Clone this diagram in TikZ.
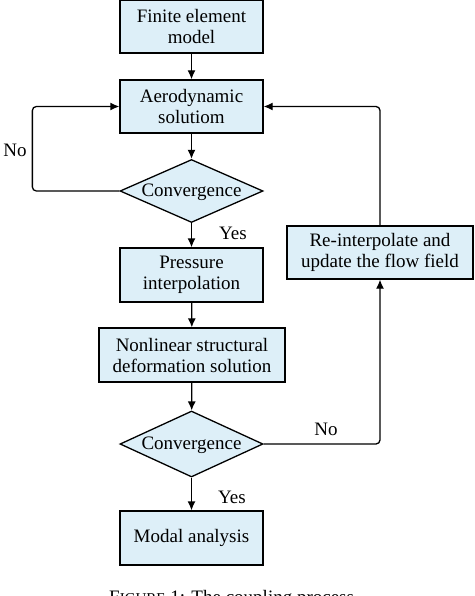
\documentclass[tikz,border=0pt]{standalone}
\usepackage{fontspec}
\setmainfont{Liberation Serif}
\usetikzlibrary{shapes.geometric,arrows.meta}
\definecolor{boxfill}{RGB}{221,239,248}
\newcommand{\dtext}[1]{\raisebox{-0.3em}[0pt][0pt]{\makebox[0pt]{#1}}}
\begin{document}
\begin{tikzpicture}[x=1pt,y=-1pt,
  font=\fontsize{19}{21}\selectfont,
  procbox/.style={draw=black, line width=1.3pt, fill=boxfill, align=center,
    inner sep=0pt, minimum width=143pt, minimum height=53pt},
  decbox/.style={diamond, draw=black, line width=1.3pt, fill=boxfill,
    inner sep=0pt, minimum width=143pt, minimum height=63pt},
  conn/.style={line width=1.3pt, -{Latex[length=9pt,width=8pt]}, rounded corners=4pt},
  lbl/.style={inner sep=0pt}]
\useasboundingbox (0,0) rectangle (474,596);
\clip (0,0) rectangle (474,596);
\node[procbox] (b1) at (191.5,26.5) {Finite element\\model};
\node[procbox] (b2) at (191.5,106.5) {Aerodynamic\\solutiom};
\node[decbox] (d1) at (191.5,191) {\dtext{Convergence}};
\node[procbox, minimum height=54pt] (b3) at (191.5,275) {Pressure\\interpolation};
\node[procbox, minimum width=186pt, minimum height=54pt] (b4) at (192,355) {Nonlinear structural\\deformation solution};
\node[decbox, minimum height=66pt] (d2) at (191.5,444) {\dtext{Convergence}};
\node[procbox, minimum height=54pt] (b5) at (191.5,538) {Modal analysis};
\node[procbox, minimum width=186pt] (b6) at (380,252.5) {Re-interpolate and\\update the flow field};
\draw[conn] (b1) -- (b2);
\draw[conn] (b2) -- (d1);
\draw[conn] (d1.west) -- ++(-87,0) |- (b2.west);
\node[lbl] (no1) at (15,150) {No};
\draw[conn] (d1) -- (b3);
\node[lbl] (yes1) at (233,233) {Yes};
\draw[conn] (b3) -- (b4);
\draw[conn] (b4) -- (d2);
\draw[conn] (d2) -- (b5);
\node[lbl] (yes2) at (232,497) {Yes};
\draw[conn] (d2.east) -| (b6.south);
\node[lbl] (no2) at (326,429) {No};
\draw[conn] (b6.north) |- (b2.east);
\node[anchor=north, inner sep=0pt] (cap) at (234,590) {F{\fontsize{15}{18}\selectfont IGURE} 1: The coupling process.};
\end{tikzpicture}
\end{document}
